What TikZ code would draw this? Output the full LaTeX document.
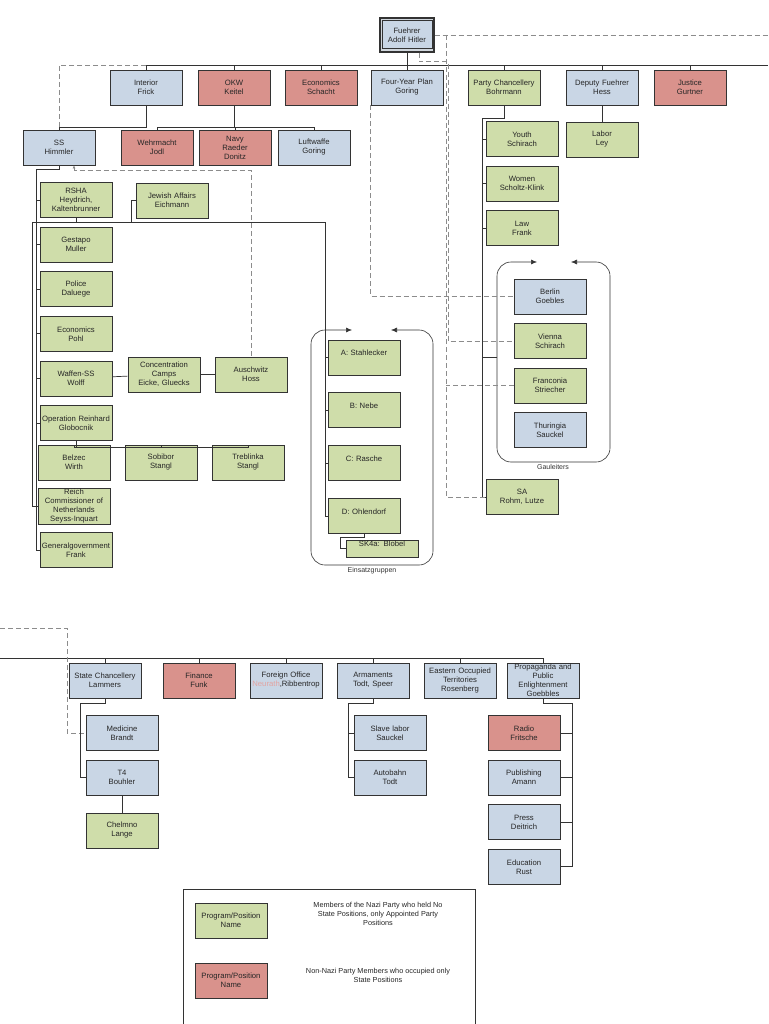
\documentclass[tikz,border=0pt]{standalone}
\usepackage{fontspec}
\setmainfont{Liberation Sans}
\usetikzlibrary{arrows.meta,positioning}
\definecolor{Ink}{HTML}{333333}
\definecolor{Dash}{HTML}{8C8C8C}
\definecolor{StateBlue}{HTML}{C9D6E5}
\definecolor{PartyGreen}{HTML}{CFDDAA}
\definecolor{OnlyRed}{HTML}{D9928C}
\definecolor{Faded}{HTML}{E3A3A0}

\begin{document}
\begin{tikzpicture}[x=1pt,y=-1pt,node distance=8.8pt,
unit/.style={draw=Ink,line width=0.8pt,minimum width=70pt,minimum height=35pt,inner sep=1pt,align=center,text width=70pt,text=black!85,font=\fontsize{7.7}{9}\selectfont},
blue/.style={unit,fill=StateBlue},
green/.style={unit,fill=PartyGreen},
red/.style={unit,fill=OnlyRed},
wire/.style={draw=Ink,line width=0.7pt},
link/.style={draw=Dash,line width=0.8pt,dash pattern=on 5pt off 3pt},
group/.style={draw=Ink,line width=0.6pt,rounded corners=14pt,{Latex[length=6pt,width=5pt]}-{Latex[length=6pt,width=5pt]}},
tag/.style={font=\fontsize{7}{8}\selectfont,text=black!80,inner sep=1pt},
note/.style={align=center,font=\fontsize{7.3}{9}\selectfont,text=black!85,inner sep=1pt}]
\fill[white] (0,0) rectangle (768,1024);
\useasboundingbox (0,0) rectangle (768,1024);

% upper chart
\node[draw=Ink,line width=1.2pt,fill=StateBlue!70!gray!60,minimum width=54pt,minimum height=34pt] (fuehrerframe) at (407,35) {};
\node[blue,line width=1pt,minimum width=48pt,text width=48pt,minimum height=28pt] (fuehrer) at (407,35) {Fuehrer\\Adolf Hitler};
\node[blue] (interior) at (146,87.5) {Interior\\Frick};
\node[red] (okw) at (234,87.5) {OKW\\Keitel};
\node[red] (economics) at (321,87.5) {Economics\\Schacht};
\node[blue] (fouryear) at (407,87.5) {Four-Year Plan\\Goring};
\node[green] (party) at (504,87.5) {Party Chancellery\\Bohrmann};
\node[blue] (deputy) at (602,87.5) {Deputy Fuehrer\\Hess};
\node[red] (justice) at (690,87.5) {Justice\\Gurtner};

\node[blue] (ss) at (59,147.5) {SS\\Himmler};
\node[red] (wehrmacht) at (157,147.5) {Wehrmacht\\Jodl};
\node[red] (navy) at (235,147.5) {Navy\\Raeder\\Donitz};
\node[blue] (luftwaffe) at (314,147.5) {Luftwaffe\\Goring};

% SS offices
\node[green] (rsha) at (76,200) {RSHA\\Heydrich,\\Kaltenbrunner};
\node[green] (jewish) at (172,200.5) {Jewish Affairs\\Eichmann};
\node[green,below=of rsha] (gestapo) {Gestapo\\Muller};
\node[green,below=of gestapo] (police) {Police\\Daluege};
\node[green,below=of police] (econss) {Economics\\Pohl};
\node[green,below=of econss] (waffen) {Waffen-SS\\Wolff};
\node[green] (camps) at (164,374.5) {Concentration\\Camps\\Eicke, Gluecks};
\node[green] (auschwitz) at (251,374.5) {Auschwitz\\Hoss};
\node[green,below=of waffen] (reinhard) {Operation Reinhard\\Globocnik};
\node[green] (belzec) at (74,462.5) {Belzec\\Wirth};
\node[green] (sobibor) at (161,462.5) {Sobibor\\Stangl};
\node[green] (treblinka) at (248,462.5) {Treblinka\\Stangl};
\node[green] (reich) at (74,506) {Reich\\Commissioner of\\Netherlands\\Seyss-Inquart};
\node[green] (genera) at (76,550) {Generalgovernment\\Frank};

% Einsatzgruppen
\node[green] (einA) at (364,357.5) {A: Stahlecker\\\mbox{}};
\node[green,below=17pt of einA] (einB) {B: Nebe\\\mbox{}};
\node[green,below=17pt of einB] (einC) {C: Rasche\\\mbox{}};
\node[green,below=17pt of einC] (einD) {D: Ohlendorf\\\mbox{}};
\node[green,minimum height=17pt] (sk) at (382,548.5) {SK4a: Blobel\\\mbox{}};
\draw[group] (352,330) -- (311,330) -- (311,565) -- (433,565) -- (433,330) -- (391,330);
\node[tag] (eintag) at (372,571) {Einsatzgruppen};

% party offices
\node[green] (youth) at (522,139) {Youth\\Schirach};
\node[green,below=of youth] (women) {Women\\Scholtz-Klink};
\node[green,below=of women] (law) {Law\\Frank};
\node[green] (labor) at (602,139.5) {Labor\\Ley};
\node[blue] (berlin) at (550,296.5) {Berlin\\Goebles};
\node[green,below=of berlin] (vienna) {Vienna\\Schirach};
\node[green,below=of vienna] (franconia) {Franconia\\Striecher};
\node[blue,below=of franconia] (thuringia) {Thuringia\\Sauckel};
\node[green] (sa) at (522,497) {SA\\Rohm, Lutze};
\draw[group] (537,262) -- (497,262) -- (497,462) -- (610,462) -- (610,262) -- (571,262);
\node[tag] (gautag) at (553,467) {Gauleiters};

% upper connectors
\coordinate (topbus-w) at (146,65);
\coordinate (topbus-e) at (768,65);
\draw[wire] (interior.north) |- (topbus-e);
\foreach \n in {okw,economics,party,deputy,justice}
  \draw[wire] (\n.north) -- ++(0,-5);
\draw[wire] (fuehrerframe) -- (fouryear);
\draw[link] (topbus-w) -| (ss.north);
\draw[wire] (interior.south) -- ++(0,22) -| (ss.north);
\draw[wire] (okw.south) -- ++(0,22) coordinate (okwbus);
\foreach \n in {wehrmacht,navy,luftwaffe}
  \draw[wire] (okwbus) -| (\n.north);
\draw[wire] (deputy) -- (labor);

\coordinate (ssbus) at (36,169);
\draw[wire] (ss.south) |- (ssbus) |- (genera.west);
\foreach \n in {rsha,gestapo,police,econss,waffen,reinhard}
  \draw[wire] (\n.west) -- (\n.west -| ssbus);
\draw[wire] (waffen) -- (camps);
\draw[wire] (camps) -- (auschwitz);
\draw[wire] (reinhard.south) -- ++(0,6) coordinate (rbus);
\foreach \n in {belzec,sobibor,treblinka}
  \draw[wire] (rbus) -| (\n.north);
\draw[link,{Latex[length=3pt,width=3pt]}-] ([xshift=15pt]ss.south) -- ++(0,5) -| (auschwitz.north);

\coordinate (rshaturn) at (32,222);
\coordinate (einturn) at (325,222);
\draw[wire] (reich.west) -| (rshaturn) -- (einturn) |- (einD.west);
\draw[wire] (rsha.south) -- (rsha.south |- rshaturn);
\draw[wire] (jewish.west) -- ++(-4,0) |- (rshaturn);
\foreach \n in {einA,einB,einC}
  \draw[wire] (\n.west) -- (\n.west -| einturn);
\draw[wire] (einD.south) -- ++(0,4) -| ([xshift=-5pt]sk.west) -- (sk.west);

\coordinate (pbus) at (482,118);
\coordinate (gau) at (497,357);
\draw[wire] (party.south) |- (pbus) |- (sa.west);
\foreach \n in {youth,women,law}
  \draw[wire] (\n.west) -- (\n.west -| pbus);
\draw[wire] (gau) -- (gau -| pbus);

\coordinate (fright) at (768,35);
\coordinate (gline) at (446,35);
\coordinate (vline) at (448,339.5);
\draw[link] (fuehrerframe.east) -- (fright);
\draw[link] (gline) |- (sa.west);
\draw[link] (franconia.west) -- (franconia.west -| gline);
\draw[link] ([xshift=12pt]fuehrerframe.south) -- ++(0,9) -| (vienna.west -| vline) -- (vienna.west);
\draw[link] (fouryear.south west) |- (berlin.west);

% lower chart
\node[blue] (chancellery) at (105,680.5) {State Chancellery\\Lammers};
\node[red] (finance) at (199,680.5) {Finance\\Funk};
\node[blue] (foreign) at (286,680.5) {Foreign Office\\{\color{Faded}Neurath},Ribbentrop};
\node[blue] (armaments) at (373,680.5) {Armaments\\Todt, Speer};
\node[blue] (eastern) at (460,680.5) {Eastern Occupied\\Territories\\Rosenberg};
\node[blue] (propaganda) at (543,680.5) {Propaganda and\\Public\\Enlightenment\\Goebbles};
\node[blue] (medicine) at (122,733) {Medicine\\Brandt};
\node[blue,below=of medicine] (t4) {T4\\Bouhler};
\node[green,below=17pt of t4] (chelmno) {Chelmno\\Lange};
\node[blue] (slave) at (390,733) {Slave labor\\Sauckel};
\node[blue,below=of slave] (autobahn) {Autobahn\\Todt};
\node[red] (radio) at (524,733) {Radio\\Fritsche};
\node[blue,below=of radio] (publishing) {Publishing\\Amann};
\node[blue,below=of publishing] (press) {Press\\Deitrich};
\node[blue,below=of press] (education) {Education\\Rust};

\coordinate (lowbus-w) at (0,658);
\coordinate (lowlink-w) at (0,628);
\coordinate (medturn) at (67,733);
\draw[wire] (lowbus-w) -| (propaganda.north);
\foreach \n in {chancellery,finance,foreign,armaments,eastern}
  \draw[wire] (\n.north) -- ++(0,-5);
\draw[link] (lowlink-w) -| (medturn) -- (medicine.west);
\draw[wire] (chancellery.south) -- ++(0,5) -| ([xshift=-5pt]t4.west) -- (t4.west);
\draw[wire] (t4) -- (chelmno);
\draw[wire] (armaments.south) -- ++(0,5) -| ([xshift=-5pt]autobahn.west) -- (autobahn.west);
\draw[wire] (slave.west) -- ++(-5,0);
\draw[wire] (propaganda.south) -- ++(0,5) -| ([xshift=12pt]education.east) -- (education.east);
\foreach \n in {radio,publishing,press}
  \draw[wire] (\n.east) -- ++(12,0);

% legend
\draw[wire] (183,1030) -- (183,889) -- (475,889) -- (475,1030);
\node[green] (keyparty) at (231,920.5) {Program/Position\\Name};
\node[red] (keystate) at (231,980.5) {Program/Position\\Name};
\node[note] (keypartytext) at (378,914) {Members of the Nazi Party who held No\\State Positions, only Appointed Party\\Positions};
\node[note] (keystatetext) at (378,975) {Non-Nazi Party Members who occupied only\\State Positions};
\end{tikzpicture}
\end{document}
